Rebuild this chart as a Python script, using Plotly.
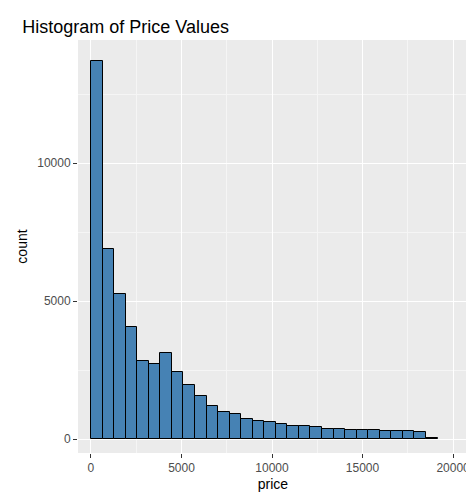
import plotly.graph_objects as go

# diamonds price histogram, 30 bins
bin_width = 637.8
bin_centers = [326 + i * bin_width for i in range(30)]
counts = [13700, 6880, 5250, 4060, 2830, 2720, 3120, 2430, 1960, 1560,
          1200, 980, 900, 720, 650, 620, 540, 470, 470, 430,
          380, 360, 330, 330, 330, 290, 300, 300, 250, 20]
x_ticks = [0, 5000, 10000, 15000, 20000]
y_ticks = [0, 5000, 10000]

fig = go.Figure()
fig.add_trace(go.Bar(x=bin_centers, y=counts, width=bin_width,
                     marker=dict(color='steelblue', line=dict(color='black', width=1))))

axis_style = dict(showgrid=True, gridcolor='white', gridwidth=1.2, zeroline=False,
                  ticks='outside', ticklen=4, tickcolor='#333333',
                  tickfont=dict(size=12, color='#4d4d4d'),
                  minor=dict(showgrid=True, gridcolor='#f5f5f5', gridwidth=0.6))

fig.update_layout(
    width=474, height=499,
    margin=dict(l=70, r=12, t=32, b=54),
    title=dict(text='Histogram of Price Values', x=0.03, y=0.975, xanchor='left',
               font=dict(size=18, color='black')),
    plot_bgcolor='#ebebeb', paper_bgcolor='white',
    font=dict(family='Liberation Sans, Arial', color='black'),
    showlegend=False, bargap=0,
)
fig.update_xaxes(axis_style, range=[-714, 20824], tickvals=x_ticks,
                 ticktext=[str(v) for v in x_ticks],
                 minor_tickvals=[2500, 7500, 12500, 17500],
                 title=dict(text='price', font=dict(size=14), standoff=4))
fig.update_yaxes(axis_style, range=[-507, 14457], tickvals=y_ticks,
                 ticktext=[str(v) for v in y_ticks],
                 minor_tickvals=[2500, 7500, 12500],
                 title=dict(text='count', font=dict(size=14), standoff=6))
fig.update_xaxes(minor_ticks='')
fig.update_yaxes(minor_ticks='')

fig.write_html('out.html')
